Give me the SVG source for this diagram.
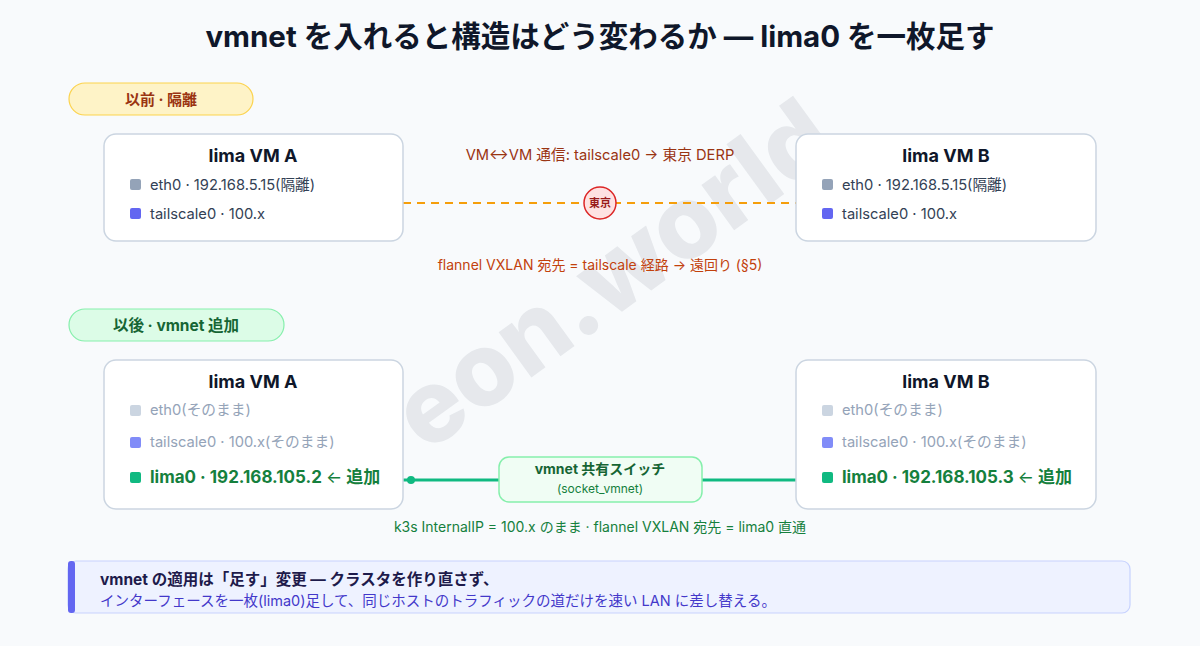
<svg xmlns="http://www.w3.org/2000/svg" width="1200" height="646" viewBox="0 0 1200 646">
<style>
text{font-family:Inter,"Noto Sans CJK JP",sans-serif}
.card{fill:#ffffff;stroke:#cbd5e1;stroke-width:1.5}
.vt{font-size:18px;font-weight:700;fill:#0f172a;text-anchor:middle}
.row{font-size:14.7px;fill:#334155}
.dim{font-size:14.7px;fill:#94a3b8}
.add{font-size:17px;font-weight:700;fill:#15803d}
</style>
<rect x="0" y="0" width="1200" height="646" fill="#f8fafc"/>
<text x="426" y="454" transform="rotate(-36 426 454)" font-size="102" font-weight="800" fill="#6b7280" fill-opacity="0.13">eon.world</text>
<text x="600" y="47" font-size="29.5" font-weight="700" fill="#0f172a" text-anchor="middle">vmnet を入れると構造はどう変わるか — lima0 を一枚足す</text>

<g id="pill-before">
<rect x="69" y="83" width="184" height="32" rx="16" fill="#fef3c7" stroke="#fcd34d" stroke-width="1.2"/>
<text x="161" y="104.5" font-size="15" font-weight="700" fill="#9a3412" text-anchor="middle">以前 · 隔離</text>
</g>

<g id="connectors">
<line x1="403" y1="203" x2="796" y2="203" stroke="#f59e0b" stroke-width="2" stroke-dasharray="8 6"/>
<line x1="403" y1="480" x2="796" y2="480" stroke="#10b981" stroke-width="3"/>
<circle cx="411" cy="480" r="4" fill="#10b981"/>
</g>

<g id="vmA-before">
<rect class="card" x="104" y="134" width="299" height="107" rx="12"/>
<text class="vt" x="253" y="162">lima VM A</text>
<rect x="130" y="179" width="11" height="11" rx="2" fill="#94a3b8"/>
<text class="row" x="150" y="190">eth0 · 192.168.5.15(隔離)</text>
<rect x="130" y="208" width="11" height="11" rx="2" fill="#6366f1"/>
<text class="row" x="150" y="219">tailscale0 · 100.x</text>
</g>

<g id="vmB-before">
<rect class="card" x="796" y="134" width="300" height="107" rx="12"/>
<text class="vt" x="946" y="162">lima VM B</text>
<rect x="822" y="179" width="11" height="11" rx="2" fill="#94a3b8"/>
<text class="row" x="842" y="190">eth0 · 192.168.5.15(隔離)</text>
<rect x="822" y="208" width="11" height="11" rx="2" fill="#6366f1"/>
<text class="row" x="842" y="219">tailscale0 · 100.x</text>
</g>

<g id="tokyo">
<circle cx="600" cy="203" r="16" fill="#fee2e2" stroke="#dc2626" stroke-width="1.5"/>
<text x="600" y="207" font-size="11" font-weight="700" fill="#991b1b" text-anchor="middle">東京</text>
</g>
<text x="600" y="160" font-size="14.7" fill="#9a3412" text-anchor="middle">VM↔VM 通信: tailscale0 → 東京 DERP</text>
<text x="600" y="270" font-size="14" fill="#c2410c" text-anchor="middle">flannel VXLAN 宛先 = tailscale 経路 → 遠回り (§5)</text>

<g id="pill-after">
<rect x="69" y="309" width="215" height="32" rx="16" fill="#dcfce7" stroke="#86efac" stroke-width="1.2"/>
<text x="176" y="330.5" font-size="15.5" font-weight="700" fill="#166534" text-anchor="middle">以後 · vmnet 追加</text>
</g>

<g id="vmA-after">
<rect class="card" x="104" y="360" width="299" height="149" rx="12"/>
<text class="vt" x="253" y="388">lima VM A</text>
<rect x="130" y="405" width="11" height="11" rx="2" fill="#cbd5e1"/>
<text class="dim" x="150" y="415">eth0(そのまま)</text>
<rect x="130" y="437" width="11" height="11" rx="2" fill="#818cf8"/>
<text class="dim" x="150" y="447">tailscale0 · 100.x(そのまま)</text>
<rect x="130" y="472" width="11" height="11" rx="2" fill="#10b981"/>
<text class="add" x="150" y="483">lima0 · 192.168.105.2 <tspan font-weight="400">←</tspan> 追加</text>
</g>

<g id="vmB-after">
<rect class="card" x="796" y="360" width="300" height="149" rx="12"/>
<text class="vt" x="946" y="388">lima VM B</text>
<rect x="822" y="405" width="11" height="11" rx="2" fill="#cbd5e1"/>
<text class="dim" x="842" y="415">eth0(そのまま)</text>
<rect x="822" y="437" width="11" height="11" rx="2" fill="#818cf8"/>
<text class="dim" x="842" y="447">tailscale0 · 100.x(そのまま)</text>
<rect x="822" y="472" width="11" height="11" rx="2" fill="#10b981"/>
<text class="add" x="842" y="483">lima0 · 192.168.105.3 <tspan font-weight="400">←</tspan> 追加</text>
</g>

<g id="switch">
<rect x="499" y="457" width="203" height="45" rx="10" fill="#f0fdf4" stroke="#86efac" stroke-width="1.5"/>
<text x="600" y="474" font-size="14" font-weight="700" fill="#166534" text-anchor="middle">vmnet 共有スイッチ</text>
<text x="600" y="493" font-size="12" fill="#15803d" text-anchor="middle">(socket_vmnet)</text>
</g>
<text x="600" y="532" font-size="14" fill="#15803d" text-anchor="middle">k3s InternalIP = 100.x のまま · flannel VXLAN 宛先 = lima0 直通</text>

<g id="note">
<rect x="68" y="561" width="1062" height="52" rx="8" fill="#eef2ff" stroke="#c7d2fe" stroke-width="1.2"/>
<rect x="68" y="561" width="7" height="52" rx="3" fill="#6366f1"/>
<text x="100" y="585" font-size="15.5" font-weight="700" fill="#1e1b4b">vmnet の適用は「足す」変更 — クラスタを作り直さず、</text>
<text x="100" y="606" font-size="14.5" fill="#4338ca">インターフェースを一枚(lima0)足して、同じホストのトラフィックの道だけを速い LAN に差し替える。</text>
</g>
</svg>
